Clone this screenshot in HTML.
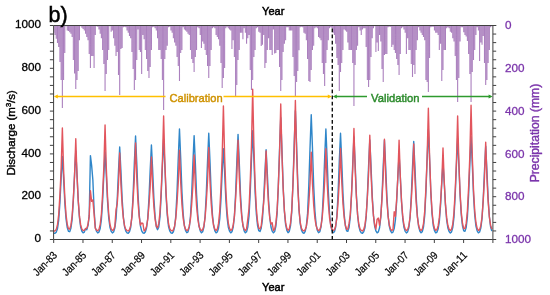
<!DOCTYPE html>
<html><head><meta charset="utf-8"><style>
html,body{margin:0;padding:0;background:#fff;width:550px;height:295px;overflow:hidden}
svg{display:block}
</style></head><body>
<svg width="550" height="295" viewBox="0 0 550 295">
<rect width="550" height="295" fill="#fff"/>
<path d="M54.10 25.50h0.27v7.22h-0.27zM54.49 25.50h1.10v9.41h-1.10zM55.71 25.50h1.10v13.22h-1.10zM56.93 25.50h1.10v17.58h-1.10zM58.15 25.50h1.10v21.50h-1.10zM59.37 25.50h1.10v36.50h-1.10zM60.59 25.50h1.10v54.50h-1.10zM61.81 25.50h1.10v82.50h-1.10zM63.03 25.50h1.10v54.50h-1.10zM64.25 25.50h1.10v27.50h-1.10zM65.47 25.50h1.10v0.86h-1.10zM66.69 25.50h1.10v5.04h-1.10zM67.91 25.50h1.10v5.59h-1.10zM69.13 25.50h1.10v6.68h-1.10zM70.35 25.50h1.10v8.31h-1.10zM71.57 25.50h1.10v11.59h-1.10zM72.79 25.50h1.10v34.50h-1.10zM74.01 25.50h1.10v48.00h-1.10zM75.23 25.50h1.10v63.50h-1.10zM76.45 25.50h1.10v54.50h-1.10zM77.67 25.50h1.10v45.50h-1.10zM78.89 25.50h1.10v14.86h-1.10zM80.11 25.50h1.10v0.86h-1.10zM81.33 25.50h1.10v2.32h-1.10zM82.55 25.50h1.10v3.41h-1.10zM83.77 25.50h1.10v5.04h-1.10zM84.99 25.50h1.10v8.31h-1.10zM86.21 25.50h1.10v11.59h-1.10zM87.43 25.50h1.10v14.86h-1.10zM88.65 25.50h1.10v28.50h-1.10zM89.87 25.50h1.10v42.50h-1.10zM91.09 25.50h1.10v30.50h-1.10zM92.31 25.50h1.10v30.50h-1.10zM93.53 25.50h1.10v42.50h-1.10zM94.75 25.50h1.10v9.41h-1.10zM95.97 25.50h1.10v0.86h-1.10zM97.19 25.50h1.10v1.23h-1.10zM98.41 25.50h1.10v3.95h-1.10zM99.63 25.50h1.10v8.31h-1.10zM100.85 25.50h1.10v12.68h-1.10zM102.07 25.50h1.10v24.50h-1.10zM103.29 25.50h1.10v38.50h-1.10zM104.51 25.50h1.10v65.50h-1.10zM105.73 25.50h1.10v48.50h-1.10zM106.95 25.50h1.10v34.50h-1.10zM108.17 25.50h1.10v24.50h-1.10zM109.39 25.50h1.10v0.86h-1.10zM110.61 25.50h1.10v6.13h-1.10zM111.83 25.50h1.10v5.04h-1.10zM113.05 25.50h1.10v12.68h-1.10zM114.27 25.50h1.10v20.31h-1.10zM115.49 25.50h1.10v30.50h-1.10zM116.71 25.50h1.10v26.50h-1.10zM117.93 25.50h1.10v49.50h-1.10zM119.15 25.50h1.10v69.50h-1.10zM120.37 25.50h1.10v23.50h-1.10zM121.59 25.50h1.10v22.50h-1.10zM122.81 25.50h1.10v1.77h-1.10zM124.03 25.50h1.10v1.23h-1.10zM125.25 25.50h1.10v1.77h-1.10zM126.47 25.50h1.10v5.04h-1.10zM127.69 25.50h1.10v7.22h-1.10zM128.91 25.50h1.10v10.50h-1.10zM130.13 25.50h1.10v12.68h-1.10zM131.35 25.50h1.10v26.50h-1.10zM132.57 25.50h1.10v43.50h-1.10zM133.79 25.50h1.10v64.50h-1.10zM135.01 25.50h1.10v54.50h-1.10zM136.23 25.50h1.10v34.50h-1.10zM137.45 25.50h1.10v3.95h-1.10zM138.67 25.50h1.10v24.50h-1.10zM139.89 25.50h1.10v26.50h-1.10zM141.11 25.50h1.10v48.50h-1.10zM142.33 25.50h1.10v9.41h-1.10zM143.55 25.50h1.10v13.77h-1.10zM144.77 25.50h1.10v24.50h-1.10zM145.99 25.50h1.10v33.50h-1.10zM147.21 25.50h1.10v45.50h-1.10zM148.43 25.50h1.10v52.50h-1.10zM149.65 25.50h1.10v41.50h-1.10zM150.87 25.50h1.10v24.50h-1.10zM152.09 25.50h1.10v1.77h-1.10zM153.31 25.50h1.10v1.23h-1.10zM154.53 25.50h1.10v2.86h-1.10zM155.75 25.50h1.10v5.04h-1.10zM156.97 25.50h1.10v12.68h-1.10zM158.19 25.50h1.10v24.50h-1.10zM159.41 25.50h1.10v24.50h-1.10zM160.63 25.50h1.10v33.50h-1.10zM161.85 25.50h1.10v54.50h-1.10zM163.07 25.50h1.10v84.50h-1.10zM164.29 25.50h1.10v33.50h-1.10zM165.51 25.50h1.10v24.50h-1.10zM166.73 25.50h1.10v20.31h-1.10zM167.95 25.50h1.10v1.77h-1.10zM169.17 25.50h1.10v1.23h-1.10zM170.39 25.50h1.10v5.04h-1.10zM171.61 25.50h1.10v7.22h-1.10zM172.83 25.50h1.10v12.68h-1.10zM174.05 25.50h1.10v17.04h-1.10zM175.27 25.50h1.10v20.31h-1.10zM176.49 25.50h1.10v31.50h-1.10zM177.71 25.50h1.10v40.50h-1.10zM178.93 25.50h1.10v55.50h-1.10zM180.15 25.50h1.10v27.50h-1.10zM181.37 25.50h1.10v24.50h-1.10zM182.59 25.50h1.10v1.77h-1.10zM183.81 25.50h1.10v3.95h-1.10zM185.03 25.50h1.10v5.04h-1.10zM186.25 25.50h1.10v6.13h-1.10zM187.47 25.50h1.10v8.31h-1.10zM188.69 25.50h1.10v9.41h-1.10zM189.91 25.50h1.10v24.50h-1.10zM191.13 25.50h1.10v33.50h-1.10zM192.35 25.50h1.10v37.50h-1.10zM193.57 25.50h1.10v46.50h-1.10zM194.79 25.50h1.10v31.50h-1.10zM196.01 25.50h1.10v24.50h-1.10zM197.23 25.50h1.10v1.77h-1.10zM198.45 25.50h1.10v2.86h-1.10zM199.67 25.50h1.10v9.41h-1.10zM200.89 25.50h1.10v22.50h-1.10zM202.11 25.50h1.10v15.95h-1.10zM203.33 25.50h1.10v18.13h-1.10zM204.55 25.50h1.10v24.50h-1.10zM205.77 25.50h1.10v29.50h-1.10zM206.99 25.50h1.10v40.50h-1.10zM208.21 25.50h1.10v52.50h-1.10zM209.43 25.50h1.10v40.50h-1.10zM210.65 25.50h1.10v24.50h-1.10zM211.87 25.50h1.10v2.86h-1.10zM213.09 25.50h1.10v1.77h-1.10zM214.31 25.50h1.10v2.86h-1.10zM215.53 25.50h1.10v9.41h-1.10zM216.75 25.50h1.10v11.59h-1.10zM217.97 25.50h1.10v13.77h-1.10zM219.19 25.50h1.10v20.31h-1.10zM220.41 25.50h1.10v37.50h-1.10zM221.63 25.50h1.10v62.50h-1.10zM222.85 25.50h1.10v52.50h-1.10zM224.07 25.50h1.10v42.50h-1.10zM225.29 25.50h1.10v2.86h-1.10zM226.51 25.50h1.10v1.23h-1.10zM227.73 25.50h1.10v2.86h-1.10zM228.95 25.50h1.10v3.95h-1.10zM230.17 25.50h1.10v5.04h-1.10zM231.39 25.50h1.10v23.50h-1.10zM232.61 25.50h1.10v14.86h-1.10zM233.83 25.50h1.10v31.50h-1.10zM235.05 25.50h1.10v71.50h-1.10zM236.27 25.50h1.10v59.50h-1.10zM237.49 25.50h1.10v34.50h-1.10zM238.71 25.50h1.10v24.50h-1.10zM239.93 25.50h1.10v7.22h-1.10zM241.15 25.50h1.10v7.22h-1.10zM242.37 25.50h1.10v13.77h-1.10zM243.59 25.50h1.10v2.86h-1.10zM244.81 25.50h1.10v7.22h-1.10zM246.03 25.50h1.10v18.13h-1.10zM247.25 25.50h1.10v12.68h-1.10zM248.47 25.50h1.10v9.41h-1.10zM249.69 25.50h1.10v44.50h-1.10zM250.91 25.50h1.10v64.50h-1.10zM252.13 25.50h1.10v54.50h-1.10zM253.35 25.50h1.10v31.50h-1.10zM254.57 25.50h1.10v24.50h-1.10zM255.79 25.50h1.10v2.86h-1.10zM257.01 25.50h1.10v1.77h-1.10zM258.23 25.50h1.10v6.13h-1.10zM259.45 25.50h1.10v7.22h-1.10zM260.67 25.50h1.10v20.50h-1.10zM261.89 25.50h1.10v19.22h-1.10zM263.11 25.50h1.10v9.41h-1.10zM264.33 25.50h1.10v42.50h-1.10zM265.55 25.50h1.10v37.50h-1.10zM266.77 25.50h1.10v24.50h-1.10zM267.99 25.50h1.10v12.68h-1.10zM269.21 25.50h1.10v24.50h-1.10zM270.43 25.50h1.10v24.50h-1.10zM271.65 25.50h1.10v29.50h-1.10zM272.87 25.50h1.10v3.95h-1.10zM274.09 25.50h1.10v27.94h-1.10zM275.31 25.50h1.10v27.50h-1.10zM276.53 25.50h1.10v24.50h-1.10zM277.75 25.50h1.10v24.50h-1.10zM278.97 25.50h1.10v41.50h-1.10zM280.19 25.50h1.10v65.50h-1.10zM281.41 25.50h1.10v54.50h-1.10zM282.63 25.50h1.10v26.50h-1.10zM283.85 25.50h1.10v18.13h-1.10zM285.07 25.50h1.10v14.86h-1.10zM286.29 25.50h1.10v1.77h-1.10zM287.51 25.50h1.10v1.77h-1.10zM288.73 25.50h1.10v5.04h-1.10zM289.95 25.50h1.10v5.04h-1.10zM291.17 25.50h1.10v5.04h-1.10zM292.39 25.50h1.10v31.50h-1.10zM293.61 25.50h1.10v50.50h-1.10zM294.83 25.50h1.10v71.50h-1.10zM296.05 25.50h1.10v56.50h-1.10zM297.27 25.50h1.10v45.50h-1.10zM298.49 25.50h1.10v24.67h-1.10zM299.71 25.50h1.10v1.77h-1.10zM300.93 25.50h1.10v1.23h-1.10zM302.15 25.50h1.10v1.77h-1.10zM303.37 25.50h1.10v7.22h-1.10zM304.59 25.50h1.10v8.31h-1.10zM305.81 25.50h1.10v14.86h-1.10zM307.03 25.50h1.10v33.50h-1.10zM308.25 25.50h1.10v55.50h-1.10zM309.47 25.50h1.10v56.50h-1.10zM310.69 25.50h1.10v44.50h-1.10zM311.91 25.50h1.10v24.50h-1.10zM313.13 25.50h1.10v20.31h-1.10zM314.35 25.50h1.10v2.86h-1.10zM315.57 25.50h1.10v1.77h-1.10zM316.79 25.50h1.10v2.86h-1.10zM318.01 25.50h1.10v11.59h-1.10zM319.23 25.50h1.10v12.68h-1.10zM320.45 25.50h1.10v14.86h-1.10zM321.67 25.50h1.10v37.50h-1.10zM322.89 25.50h1.10v48.50h-1.10zM324.11 25.50h1.10v60.50h-1.10zM325.33 25.50h1.10v37.50h-1.10zM326.55 25.50h1.10v24.50h-1.10zM327.77 25.50h1.10v14.86h-1.10zM328.99 25.50h1.10v2.86h-1.10zM330.21 25.50h1.10v1.77h-1.10zM331.43 25.50h1.10v2.86h-1.10zM332.65 25.50h1.10v7.22h-1.10zM333.87 25.50h1.10v9.41h-1.10zM335.09 25.50h1.10v18.13h-1.10zM336.31 25.50h1.10v32.50h-1.10zM337.53 25.50h1.10v39.50h-1.10zM338.75 25.50h1.10v65.50h-1.10zM339.97 25.50h1.10v46.50h-1.10zM341.19 25.50h1.10v37.50h-1.10zM342.41 25.50h1.10v24.50h-1.10zM343.63 25.50h1.10v3.95h-1.10zM344.85 25.50h1.10v5.04h-1.10zM346.07 25.50h1.10v6.13h-1.10zM347.29 25.50h1.10v17.04h-1.10zM348.51 25.50h1.10v24.50h-1.10zM349.73 25.50h1.10v24.50h-1.10zM350.95 25.50h1.10v24.50h-1.10zM352.17 25.50h1.10v37.50h-1.10zM353.39 25.50h1.10v80.50h-1.10zM354.61 25.50h1.10v39.50h-1.10zM355.83 25.50h1.10v24.50h-1.10zM357.05 25.50h1.10v20.31h-1.10zM358.27 25.50h1.10v1.77h-1.10zM359.49 25.50h1.10v5.04h-1.10zM360.71 25.50h1.10v9.41h-1.10zM361.93 25.50h1.10v3.95h-1.10zM363.15 25.50h1.10v2.86h-1.10zM364.37 25.50h1.10v2.86h-1.10zM365.59 25.50h1.10v21.50h-1.10zM366.81 25.50h1.10v54.50h-1.10zM368.03 25.50h1.10v61.50h-1.10zM369.25 25.50h1.10v54.50h-1.10zM370.47 25.50h1.10v31.50h-1.10zM371.69 25.50h1.10v12.68h-1.10zM372.91 25.50h1.10v2.86h-1.10zM374.13 25.50h1.10v0.86h-1.10zM375.35 25.50h1.10v26.50h-1.10zM376.57 25.50h1.10v17.04h-1.10zM377.79 25.50h1.10v25.50h-1.10zM379.01 25.50h1.10v9.41h-1.10zM380.23 25.50h1.10v15.95h-1.10zM381.45 25.50h1.10v43.50h-1.10zM382.67 25.50h1.10v56.50h-1.10zM383.89 25.50h1.10v29.50h-1.10zM385.11 25.50h1.10v28.50h-1.10zM386.33 25.50h1.10v28.50h-1.10zM387.55 25.50h1.10v1.77h-1.10zM388.77 25.50h1.10v1.23h-1.10zM389.99 25.50h1.10v1.23h-1.10zM391.21 25.50h1.10v21.50h-1.10zM392.43 25.50h1.10v19.22h-1.10zM393.65 25.50h1.10v24.50h-1.10zM394.87 25.50h1.10v27.50h-1.10zM396.09 25.50h1.10v33.50h-1.10zM397.31 25.50h1.10v39.50h-1.10zM398.53 25.50h1.10v49.50h-1.10zM399.75 25.50h1.10v28.50h-1.10zM400.97 25.50h1.10v2.86h-1.10zM402.19 25.50h1.10v1.77h-1.10zM403.41 25.50h1.10v3.95h-1.10zM404.63 25.50h1.10v7.22h-1.10zM405.85 25.50h1.10v28.50h-1.10zM407.07 25.50h1.10v12.68h-1.10zM408.29 25.50h1.10v24.50h-1.10zM409.51 25.50h1.10v24.50h-1.10zM410.73 25.50h1.10v38.50h-1.10zM411.95 25.50h1.10v51.50h-1.10zM413.17 25.50h1.10v39.50h-1.10zM414.39 25.50h1.10v48.50h-1.10zM415.61 25.50h1.10v24.50h-1.10zM416.83 25.50h1.10v14.86h-1.10zM418.05 25.50h1.10v1.77h-1.10zM419.27 25.50h1.10v5.04h-1.10zM420.49 25.50h1.10v7.22h-1.10zM421.71 25.50h1.10v9.41h-1.10zM422.93 25.50h1.10v11.59h-1.10zM424.15 25.50h1.10v14.86h-1.10zM425.37 25.50h1.10v54.50h-1.10zM426.59 25.50h1.10v56.50h-1.10zM427.81 25.50h1.10v66.50h-1.10zM429.03 25.50h1.10v32.50h-1.10zM430.25 25.50h1.10v1.77h-1.10zM431.47 25.50h1.10v1.23h-1.10zM432.69 25.50h1.10v1.23h-1.10zM433.91 25.50h1.10v5.04h-1.10zM435.13 25.50h1.10v7.22h-1.10zM436.35 25.50h1.10v7.22h-1.10zM437.57 25.50h1.10v9.41h-1.10zM438.79 25.50h1.10v24.50h-1.10zM440.01 25.50h1.10v18.13h-1.10zM441.23 25.50h1.10v55.50h-1.10zM442.45 25.50h1.10v44.50h-1.10zM443.67 25.50h1.10v24.50h-1.10zM444.89 25.50h1.10v24.50h-1.10zM446.11 25.50h1.10v2.86h-1.10zM447.33 25.50h1.10v1.77h-1.10zM448.55 25.50h1.10v2.86h-1.10zM449.77 25.50h1.10v6.13h-1.10zM450.99 25.50h1.10v7.22h-1.10zM452.21 25.50h1.10v12.68h-1.10zM453.43 25.50h1.10v15.95h-1.10zM454.65 25.50h1.10v30.50h-1.10zM455.87 25.50h1.10v54.50h-1.10zM457.09 25.50h1.10v76.50h-1.10zM458.31 25.50h1.10v52.50h-1.10zM459.53 25.50h1.10v15.95h-1.10zM460.75 25.50h1.10v1.77h-1.10zM461.97 25.50h1.10v1.77h-1.10zM463.19 25.50h1.10v6.68h-1.10zM464.41 25.50h1.10v9.41h-1.10zM465.63 25.50h1.10v11.04h-1.10zM466.85 25.50h1.10v15.40h-1.10zM468.07 25.50h1.10v28.50h-1.10zM469.29 25.50h1.10v48.50h-1.10zM470.51 25.50h1.10v76.50h-1.10zM471.73 25.50h1.10v46.50h-1.10zM472.95 25.50h1.10v34.50h-1.10zM474.17 25.50h1.10v24.50h-1.10zM475.39 25.50h1.10v9.41h-1.10zM476.61 25.50h1.10v1.77h-1.10zM477.83 25.50h1.10v5.04h-1.10zM479.05 25.50h1.10v35.50h-1.10zM480.27 25.50h1.10v17.04h-1.10zM481.49 25.50h1.10v19.22h-1.10zM482.71 25.50h1.10v10.50h-1.10zM483.93 25.50h1.10v37.50h-1.10zM485.15 25.50h1.10v59.50h-1.10zM486.37 25.50h1.10v54.50h-1.10zM487.59 25.50h1.10v37.50h-1.10zM488.81 25.50h1.10v24.50h-1.10zM490.03 25.50h1.10v1.77h-1.10zM491.25 25.50h1.10v0.86h-1.10z" fill="#ab80be"/>
<polyline points="53.82,233.29 55.04,233.29 56.26,232.14 57.48,228.69 58.70,220.24 59.92,202.58 61.14,178.00 62.36,156.50 63.58,178.00 64.80,202.58 66.02,218.70 67.24,227.53 68.46,231.37 69.68,231.68 70.90,228.36 72.12,219.30 73.34,200.38 74.56,174.04 75.78,151.00 77.00,174.04 78.22,200.38 79.44,217.66 80.66,227.12 81.88,231.24 83.10,232.88 84.32,232.12 85.54,228.61 86.76,229.87 87.98,225.59 89.20,215.96 90.42,155.61 91.64,165.67 92.86,180.01 94.08,209.54 95.30,227.44 96.52,231.34 97.74,232.90 98.96,232.07 100.18,228.42 101.40,219.47 102.62,200.78 103.84,174.76 105.06,152.00 106.28,174.76 107.50,200.78 108.72,217.85 109.94,227.20 111.16,231.26 112.38,232.89 113.60,232.00 114.82,228.12 116.04,218.62 117.26,198.78 118.48,171.16 119.70,147.00 120.92,171.16 122.14,198.78 123.36,216.90 124.58,226.82 125.80,231.14 127.02,232.86 128.24,233.29 129.46,231.83 130.68,227.46 131.90,216.75 133.12,194.38 134.34,163.24 135.56,136.00 136.78,163.24 138.00,194.38 139.22,214.81 140.44,226.00 141.66,230.86 142.88,232.81 144.10,233.29 145.32,231.97 146.54,228.00 147.76,218.28 148.98,197.98 150.20,169.72 151.42,145.00 152.64,169.72 153.86,197.98 155.08,216.52 156.30,226.67 157.52,229.67 158.74,227.19 159.96,217.26 161.18,195.58 162.40,165.40 163.62,139.00 164.84,165.40 166.06,195.58 167.28,215.38 168.50,226.22 169.72,230.94 170.94,232.82 172.16,233.29 173.38,231.73 174.60,227.04 175.82,215.56 177.04,191.58 178.26,158.20 179.48,129.00 180.70,158.20 181.92,191.58 183.14,213.48 184.36,225.47 185.58,230.69 186.80,232.77 188.02,231.83 189.24,227.43 190.46,216.69 191.68,194.22 192.90,162.95 194.12,135.60 195.34,162.95 196.56,194.22 197.78,214.73 199.00,225.97 200.22,230.85 201.44,232.81 202.66,231.79 203.88,227.29 205.10,216.28 206.32,193.26 207.54,161.23 208.76,133.20 209.98,161.23 211.20,193.26 212.42,214.28 213.64,225.79 214.86,230.79 216.08,232.79 217.30,232.02 218.52,228.21 219.74,218.90 220.96,199.42 222.18,172.31 223.40,148.60 224.62,172.31 225.84,199.42 227.06,217.20 228.28,226.94 229.50,231.18 230.72,232.87 231.94,231.81 233.16,227.36 234.38,216.48 235.60,193.74 236.82,162.09 238.04,134.40 239.26,162.09 240.48,193.74 241.70,214.50 242.92,225.88 244.14,230.82 245.36,232.80 246.58,231.76 247.80,227.14 249.02,215.87 250.24,192.30 251.46,159.50 252.68,130.80 253.90,159.50 255.12,192.30 256.34,213.82 257.56,225.61 258.78,230.73 260.00,231.53 261.22,228.28 262.44,219.10 263.66,199.90 264.88,173.18 266.10,149.80 267.32,173.18 268.54,199.90 269.76,217.43 270.98,227.03 272.20,231.21 273.42,232.88 274.64,231.56 275.86,226.36 277.08,213.66 278.30,187.10 279.52,150.14 280.74,117.80 281.96,150.14 283.18,187.10 284.40,211.35 285.62,224.63 286.84,230.41 288.06,232.72 289.28,231.46 290.50,225.94 291.72,212.45 292.94,184.26 294.16,145.03 295.38,110.70 296.60,145.03 297.82,184.26 299.04,210.00 300.26,224.10 301.48,230.23 302.70,232.68 303.92,233.29 305.14,231.52 306.36,226.18 307.58,213.13 308.80,185.86 310.02,147.91 311.24,114.70 312.46,147.91 313.68,185.86 314.90,210.76 316.12,224.40 317.34,230.33 318.56,232.70 319.78,231.73 321.00,227.04 322.22,215.56 323.44,191.58 324.66,158.20 325.88,129.00 327.10,158.20 328.32,191.58 329.54,213.48 330.76,225.47 331.98,230.69 333.20,232.77 334.42,231.79 335.64,227.29 336.86,216.28 338.08,193.26 339.30,161.23 340.52,133.20 341.74,161.23 342.96,193.26 344.18,214.28 345.40,225.79 346.62,230.79 347.84,231.35 349.06,227.52 350.28,216.92 351.50,194.78 352.72,163.96 353.94,137.00 355.16,163.96 356.38,194.78 357.60,215.00 358.82,226.07 360.04,230.89 361.26,232.81 362.48,233.29 363.70,231.89 364.92,227.70 366.14,217.43 367.36,195.98 368.58,166.12 369.80,140.00 371.02,166.12 372.24,195.98 373.46,215.57 374.68,226.30 375.90,230.96 377.12,232.83 378.34,231.90 379.56,227.71 380.78,217.49 382.00,196.10 383.22,166.34 384.44,140.30 385.66,166.34 386.88,196.10 388.10,215.63 389.32,226.32 390.54,230.97 391.76,232.83 392.98,232.11 394.20,228.57 395.42,219.92 396.64,201.82 397.86,176.63 399.08,154.60 400.30,176.63 401.52,201.82 402.74,218.34 403.96,227.39 405.18,231.33 406.40,232.90 407.62,231.92 408.84,227.79 410.06,217.69 411.28,196.58 412.50,167.20 413.72,141.50 414.94,167.20 416.16,196.58 417.38,215.85 418.60,226.41 419.82,231.00 421.04,232.84 422.26,231.74 423.48,227.08 424.70,215.68 425.92,191.86 427.14,158.71 428.36,129.70 429.58,158.71 430.80,191.86 432.02,213.61 433.24,225.52 434.46,230.70 435.68,232.78 436.90,232.24 438.12,229.08 439.34,221.34 440.56,205.18 441.78,182.68 443.00,163.00 444.22,182.68 445.44,205.18 446.66,219.94 447.88,228.02 449.10,231.54 450.32,232.94 451.54,231.86 452.76,227.58 453.98,217.09 455.20,195.18 456.42,164.68 457.64,138.00 458.86,164.68 460.08,195.18 461.30,215.19 462.52,226.15 463.74,230.91 464.96,231.37 466.18,227.50 467.40,216.89 468.62,194.70 469.84,163.82 471.06,136.80 472.28,163.82 473.50,194.70 474.72,214.96 475.94,226.06 477.16,230.88 478.38,232.81 479.60,231.99 480.82,228.07 482.04,218.51 483.26,198.50 484.48,170.66 485.70,146.30 486.92,170.66 488.14,198.50 489.36,216.77 490.58,226.77 491.80,231.12" fill="none" stroke="#2f86c9" stroke-width="1.4" stroke-linejoin="round"/>
<polyline points="53.82,230.94 55.04,230.94 56.26,229.40 57.48,224.76 58.70,214.47 59.92,194.91 61.14,169.18 62.36,128.00 63.58,169.18 64.80,196.97 66.02,214.47 67.24,224.25 68.46,228.88 69.68,229.04 70.90,225.41 72.12,216.18 73.34,198.66 74.56,175.60 75.78,138.70 77.00,175.60 78.22,200.50 79.44,216.18 80.66,224.94 81.88,229.10 83.10,230.48 84.32,230.34 85.54,228.53 86.76,228.37 87.98,224.52 89.20,215.96 90.42,190.71 91.64,201.41 92.86,199.91 94.08,213.82 95.30,228.33 96.52,230.14 97.74,230.74 98.96,229.35 100.18,224.58 101.40,213.99 102.62,193.86 103.84,167.38 105.06,125.00 106.28,167.38 107.50,195.98 108.72,213.99 109.94,224.05 111.16,228.82 112.38,230.41 113.60,229.77 114.82,226.26 116.04,209.54 117.26,203.66 118.48,184.18 119.70,153.00 120.92,184.18 122.14,205.22 123.36,218.47 124.58,225.87 125.80,229.38 127.02,230.55 128.24,230.94 129.46,229.62 130.68,225.66 131.90,216.87 133.12,200.16 134.34,178.18 135.56,143.00 136.78,178.18 138.00,201.92 139.22,216.87 140.44,225.22 141.66,223.02 142.88,223.45 144.10,230.94 145.32,229.83 146.54,226.50 147.76,219.11 148.98,205.06 150.20,186.58 151.42,157.00 152.64,186.58 153.86,206.54 155.08,219.11 156.30,226.13 157.52,227.74 158.74,223.67 159.96,212.55 161.18,190.71 162.40,161.98 163.62,116.00 164.84,161.98 166.06,193.01 167.28,212.55 168.50,223.47 169.72,228.64 170.94,230.37 172.16,230.94 173.38,229.73 174.60,226.10 175.82,218.04 177.04,202.72 178.26,182.56 179.48,150.30 180.70,182.56 181.92,204.33 183.14,218.04 184.36,225.70 185.58,229.33 186.80,230.54 188.02,229.80 189.24,226.38 190.46,218.79 191.68,204.36 192.90,185.38 194.12,155.00 195.34,185.38 196.56,205.88 197.78,218.79 199.00,226.00 200.22,229.42 201.44,230.56 202.66,229.69 203.88,225.93 205.10,217.59 206.32,201.74 207.54,180.88 208.76,147.50 209.98,180.88 211.20,203.40 212.42,217.59 213.64,225.52 214.86,229.27 216.08,230.52 217.30,229.07 218.52,223.44 219.74,210.95 220.96,187.21 222.18,155.98 223.40,106.00 224.62,155.98 225.84,189.71 227.06,210.95 228.28,222.82 229.50,228.44 230.72,230.32 231.94,229.58 233.16,225.50 234.38,216.44 235.60,199.22 236.82,176.56 238.04,140.30 239.26,176.56 240.48,201.03 241.70,216.44 242.92,225.05 244.14,229.13 245.36,230.49 246.58,228.82 247.80,219.17 249.02,208.28 250.24,181.37 251.46,145.96 252.68,89.30 253.90,145.96 255.12,184.20 256.34,208.28 257.56,221.73 258.78,228.11 260.00,229.03 261.22,226.14 262.44,214.25 263.66,202.96 264.88,182.98 266.10,151.00 267.32,182.98 268.54,204.56 269.76,218.15 270.98,224.09 272.20,222.81 273.42,230.54 274.64,229.04 275.86,223.32 277.08,210.63 278.30,186.51 279.52,154.78 280.74,104.00 281.96,154.78 283.18,189.05 284.40,210.63 285.62,222.69 286.84,228.40 288.06,230.31 289.28,228.98 290.50,223.11 291.72,210.07 292.94,185.29 294.16,152.68 295.38,100.50 296.60,152.68 297.82,187.89 299.04,210.07 300.26,222.46 301.48,228.33 302.70,230.29 303.92,230.94 305.14,229.76 306.36,226.22 307.58,218.34 308.80,203.38 310.02,183.70 311.24,152.20 312.46,183.70 313.68,204.96 314.90,218.34 316.12,225.82 317.34,229.37 318.56,230.55 319.78,229.70 321.00,226.00 322.22,217.77 323.44,202.12 324.66,181.54 325.88,148.60 327.10,181.54 328.32,203.77 329.54,217.77 330.76,225.59 331.98,229.29 333.20,230.53 334.42,229.70 335.64,225.99 336.86,217.75 338.08,202.09 339.30,181.48 340.52,148.50 341.74,181.48 342.96,203.73 344.18,217.75 345.40,225.58 346.62,229.29 347.84,228.99 349.06,223.45 350.28,214.55 351.50,195.09 352.72,169.48 353.94,128.50 355.16,169.48 356.38,197.13 357.60,214.55 358.82,224.28 360.04,228.89 361.26,230.43 362.48,230.94 363.70,229.51 364.92,225.20 366.14,215.64 367.36,197.47 368.58,173.56 369.80,135.30 371.02,173.56 372.24,199.38 373.46,215.64 374.68,224.72 375.90,229.03 377.12,219.17 378.34,218.10 379.56,225.44 380.78,216.28 382.00,198.87 383.22,175.96 384.44,139.30 385.66,175.96 386.88,200.70 388.10,216.28 389.32,224.98 390.54,229.11 391.76,230.48 392.98,229.58 394.20,211.68 395.42,216.44 396.64,199.22 397.86,176.56 399.08,140.30 400.30,176.56 401.52,201.03 402.74,216.44 403.96,225.05 405.18,229.13 406.40,230.49 407.62,229.64 408.84,225.72 410.06,217.03 411.28,200.51 412.50,178.78 413.72,144.00 414.94,178.78 416.16,202.25 417.38,217.03 418.60,225.29 419.82,229.20 421.04,230.51 422.26,229.10 423.48,223.58 424.70,211.32 425.92,188.02 427.14,157.36 428.36,108.30 429.58,157.36 430.80,190.47 432.02,211.32 433.24,222.97 434.46,228.49 435.68,230.33 436.90,229.70 438.12,225.96 439.34,217.67 440.56,201.91 441.78,181.18 443.00,148.00 444.22,181.18 445.44,203.57 446.66,217.67 447.88,225.55 449.10,229.28 450.32,230.53 451.54,229.22 452.76,224.04 453.98,212.55 455.20,190.71 456.42,161.98 457.64,116.00 458.86,161.98 460.08,193.01 461.30,212.55 462.52,223.47 463.74,228.64 464.96,228.48 466.18,223.40 467.40,210.82 468.62,186.93 469.84,155.50 471.06,105.20 472.28,155.50 473.50,189.45 474.72,210.82 475.94,222.77 477.16,228.43 478.38,230.31 479.60,229.61 480.82,225.62 482.04,216.74 483.26,199.88 484.48,177.70 485.70,142.20 486.92,177.70 488.14,201.66 489.36,216.74 490.58,225.17 491.80,229.17" fill="none" stroke="#e2555d" stroke-width="1.4" stroke-linejoin="round"/>
<path d="M53.6 25.5V239.5M492.9 25.5V239.5M53.6 239.5H492.9M53.6 25.5H496.2" stroke="#404040" stroke-width="1" fill="none"/>
<path d="M49.9 239.50H53.6M492.9 25.50H496.2M49.9 230.94H53.6M492.9 34.06H496.2M49.9 222.38H53.6M492.9 42.62H496.2M49.9 213.82H53.6M492.9 51.18H496.2M49.9 205.26H53.6M492.9 59.74H496.2M49.9 196.70H53.6M492.9 68.30H496.2M49.9 188.14H53.6M492.9 76.86H496.2M49.9 179.58H53.6M492.9 85.42H496.2M49.9 171.02H53.6M492.9 93.98H496.2M49.9 162.46H53.6M492.9 102.54H496.2M49.9 153.90H53.6M492.9 111.10H496.2M49.9 145.34H53.6M492.9 119.66H496.2M49.9 136.78H53.6M492.9 128.22H496.2M49.9 128.22H53.6M492.9 136.78H496.2M49.9 119.66H53.6M492.9 145.34H496.2M49.9 111.10H53.6M492.9 153.90H496.2M49.9 102.54H53.6M492.9 162.46H496.2M49.9 93.98H53.6M492.9 171.02H496.2M49.9 85.42H53.6M492.9 179.58H496.2M49.9 76.86H53.6M492.9 188.14H496.2M49.9 68.30H53.6M492.9 196.70H496.2M49.9 59.74H53.6M492.9 205.26H496.2M49.9 51.18H53.6M492.9 213.82H496.2M49.9 42.62H53.6M492.9 222.38H496.2M49.9 34.06H53.6M492.9 230.94H496.2M49.9 25.50H53.6M492.9 239.50H496.2M53.70 239.5V243M82.98 239.5V243M112.26 239.5V243M141.54 239.5V243M170.82 239.5V243M200.10 239.5V243M229.38 239.5V243M258.66 239.5V243M287.94 239.5V243M317.22 239.5V243M346.50 239.5V243M375.78 239.5V243M405.06 239.5V243M434.34 239.5V243M463.62 239.5V243M492.90 239.5V243" stroke="#404040" stroke-width="1" fill="none"/>
<path d="M332.3 25.5V239.5" stroke="#111" stroke-width="1.4" stroke-dasharray="3.7 2.4" stroke-dashoffset="3.1"/>
<path d="M56 96.5H329.5" stroke="#ffc000" stroke-width="1.4"/>
<path d="M53.8 96.5L57.8 94.6V98.4Z M331.8 96.5L327.8 94.6V98.4Z" fill="#ffc000"/>
<path d="M335.5 96.5H490.5" stroke="#2e9a2e" stroke-width="1.4"/>
<path d="M332.8 96.5L336.8 94.6V98.4Z M492.6 96.5L488.6 94.6V98.4Z" fill="#2e9a2e"/>
<rect x="165.5" y="89" width="58" height="15" fill="#fff"/>
<text x="169.6" y="101.5" font-family="Liberation Sans, sans-serif" font-size="11.8" fill="#cf9200" stroke="#cf9200" stroke-width="0.45" textLength="53" lengthAdjust="spacingAndGlyphs">Calibration</text>
<rect x="367" y="89" width="55" height="15" fill="#fff"/>
<text x="371" y="101.5" font-family="Liberation Sans, sans-serif" font-size="11.8" fill="#2b8a2b" stroke="#2b8a2b" stroke-width="0.45" textLength="48.5" lengthAdjust="spacingAndGlyphs">Validation</text>
<text x="41" y="242.20" font-family="Liberation Sans, sans-serif" font-size="11.7" text-anchor="end" fill="#000" stroke="#000" stroke-width="0.3">0</text>
<text x="41" y="199.40" font-family="Liberation Sans, sans-serif" font-size="11.7" text-anchor="end" fill="#000" stroke="#000" stroke-width="0.3">200</text>
<text x="41" y="156.60" font-family="Liberation Sans, sans-serif" font-size="11.7" text-anchor="end" fill="#000" stroke="#000" stroke-width="0.3">400</text>
<text x="41" y="113.80" font-family="Liberation Sans, sans-serif" font-size="11.7" text-anchor="end" fill="#000" stroke="#000" stroke-width="0.3">600</text>
<text x="41" y="71.00" font-family="Liberation Sans, sans-serif" font-size="11.7" text-anchor="end" fill="#000" stroke="#000" stroke-width="0.3">800</text>
<text x="41" y="28.20" font-family="Liberation Sans, sans-serif" font-size="11.7" text-anchor="end" fill="#000" stroke="#000" stroke-width="0.3">1000</text>
<text x="505.1" y="29.10" font-family="Liberation Sans, sans-serif" font-size="11.7" fill="#7b35ab" stroke="#7b35ab" stroke-width="0.3">0</text>
<text x="505.1" y="71.90" font-family="Liberation Sans, sans-serif" font-size="11.7" fill="#7b35ab" stroke="#7b35ab" stroke-width="0.3">200</text>
<text x="505.1" y="114.70" font-family="Liberation Sans, sans-serif" font-size="11.7" fill="#7b35ab" stroke="#7b35ab" stroke-width="0.3">400</text>
<text x="505.1" y="157.50" font-family="Liberation Sans, sans-serif" font-size="11.7" fill="#7b35ab" stroke="#7b35ab" stroke-width="0.3">600</text>
<text x="505.1" y="200.30" font-family="Liberation Sans, sans-serif" font-size="11.7" fill="#7b35ab" stroke="#7b35ab" stroke-width="0.3">800</text>
<text x="505.1" y="243.10" font-family="Liberation Sans, sans-serif" font-size="11.7" fill="#7b35ab" stroke="#7b35ab" stroke-width="0.3">1000</text>
<text transform="translate(57.80 256) rotate(-45)" font-family="Liberation Sans, sans-serif" font-size="10.9" text-anchor="end" fill="#000" textLength="29" lengthAdjust="spacingAndGlyphs" stroke="#000" stroke-width="0.2">Jan-83</text>
<text transform="translate(87.08 256) rotate(-45)" font-family="Liberation Sans, sans-serif" font-size="10.9" text-anchor="end" fill="#000" textLength="29" lengthAdjust="spacingAndGlyphs" stroke="#000" stroke-width="0.2">Jan-85</text>
<text transform="translate(116.36 256) rotate(-45)" font-family="Liberation Sans, sans-serif" font-size="10.9" text-anchor="end" fill="#000" textLength="29" lengthAdjust="spacingAndGlyphs" stroke="#000" stroke-width="0.2">Jan-87</text>
<text transform="translate(145.64 256) rotate(-45)" font-family="Liberation Sans, sans-serif" font-size="10.9" text-anchor="end" fill="#000" textLength="29" lengthAdjust="spacingAndGlyphs" stroke="#000" stroke-width="0.2">Jan-89</text>
<text transform="translate(174.92 256) rotate(-45)" font-family="Liberation Sans, sans-serif" font-size="10.9" text-anchor="end" fill="#000" textLength="29" lengthAdjust="spacingAndGlyphs" stroke="#000" stroke-width="0.2">Jan-91</text>
<text transform="translate(204.20 256) rotate(-45)" font-family="Liberation Sans, sans-serif" font-size="10.9" text-anchor="end" fill="#000" textLength="29" lengthAdjust="spacingAndGlyphs" stroke="#000" stroke-width="0.2">Jan-93</text>
<text transform="translate(233.48 256) rotate(-45)" font-family="Liberation Sans, sans-serif" font-size="10.9" text-anchor="end" fill="#000" textLength="29" lengthAdjust="spacingAndGlyphs" stroke="#000" stroke-width="0.2">Jan-95</text>
<text transform="translate(262.76 256) rotate(-45)" font-family="Liberation Sans, sans-serif" font-size="10.9" text-anchor="end" fill="#000" textLength="29" lengthAdjust="spacingAndGlyphs" stroke="#000" stroke-width="0.2">Jan-97</text>
<text transform="translate(292.04 256) rotate(-45)" font-family="Liberation Sans, sans-serif" font-size="10.9" text-anchor="end" fill="#000" textLength="29" lengthAdjust="spacingAndGlyphs" stroke="#000" stroke-width="0.2">Jan-99</text>
<text transform="translate(321.32 256) rotate(-45)" font-family="Liberation Sans, sans-serif" font-size="10.9" text-anchor="end" fill="#000" textLength="29" lengthAdjust="spacingAndGlyphs" stroke="#000" stroke-width="0.2">Jan-01</text>
<text transform="translate(350.60 256) rotate(-45)" font-family="Liberation Sans, sans-serif" font-size="10.9" text-anchor="end" fill="#000" textLength="29" lengthAdjust="spacingAndGlyphs" stroke="#000" stroke-width="0.2">Jan-03</text>
<text transform="translate(379.88 256) rotate(-45)" font-family="Liberation Sans, sans-serif" font-size="10.9" text-anchor="end" fill="#000" textLength="29" lengthAdjust="spacingAndGlyphs" stroke="#000" stroke-width="0.2">Jan-05</text>
<text transform="translate(409.16 256) rotate(-45)" font-family="Liberation Sans, sans-serif" font-size="10.9" text-anchor="end" fill="#000" textLength="29" lengthAdjust="spacingAndGlyphs" stroke="#000" stroke-width="0.2">Jan-07</text>
<text transform="translate(438.44 256) rotate(-45)" font-family="Liberation Sans, sans-serif" font-size="10.9" text-anchor="end" fill="#000" textLength="29" lengthAdjust="spacingAndGlyphs" stroke="#000" stroke-width="0.2">Jan-09</text>
<text transform="translate(467.72 256) rotate(-45)" font-family="Liberation Sans, sans-serif" font-size="10.9" text-anchor="end" fill="#000" textLength="29" lengthAdjust="spacingAndGlyphs" stroke="#000" stroke-width="0.2">Jan-11</text>
<text x="262.1" y="15.2" font-family="Liberation Sans, sans-serif" font-size="11.8" fill="#000" textLength="22.3" lengthAdjust="spacingAndGlyphs" stroke="#000" stroke-width="0.5">Year</text>
<text x="262.1" y="291.3" font-family="Liberation Sans, sans-serif" font-size="11.8" fill="#000" textLength="22.3" lengthAdjust="spacingAndGlyphs" stroke="#000" stroke-width="0.5">Year</text>
<text x="48.5" y="22" font-family="Liberation Sans, sans-serif" font-size="21.5" fill="#000" stroke="#000" stroke-width="0.5">b)</text>
<text transform="translate(15.4 175.6) rotate(-90)" font-family="Liberation Sans, sans-serif" font-size="11.6" fill="#000" stroke="#000" stroke-width="0.4" textLength="85.5" lengthAdjust="spacingAndGlyphs">Discharge (m<tspan font-size="7.5" dy="-4">3</tspan><tspan dy="4">/s)</tspan></text>
<text transform="translate(539.4 182.3) rotate(-90)" font-family="Liberation Sans, sans-serif" font-size="12" fill="#7b35ab" stroke="#7b35ab" stroke-width="0.4" textLength="98.5" lengthAdjust="spacingAndGlyphs">Precipitation (mm)</text>
</svg>
</body></html>
